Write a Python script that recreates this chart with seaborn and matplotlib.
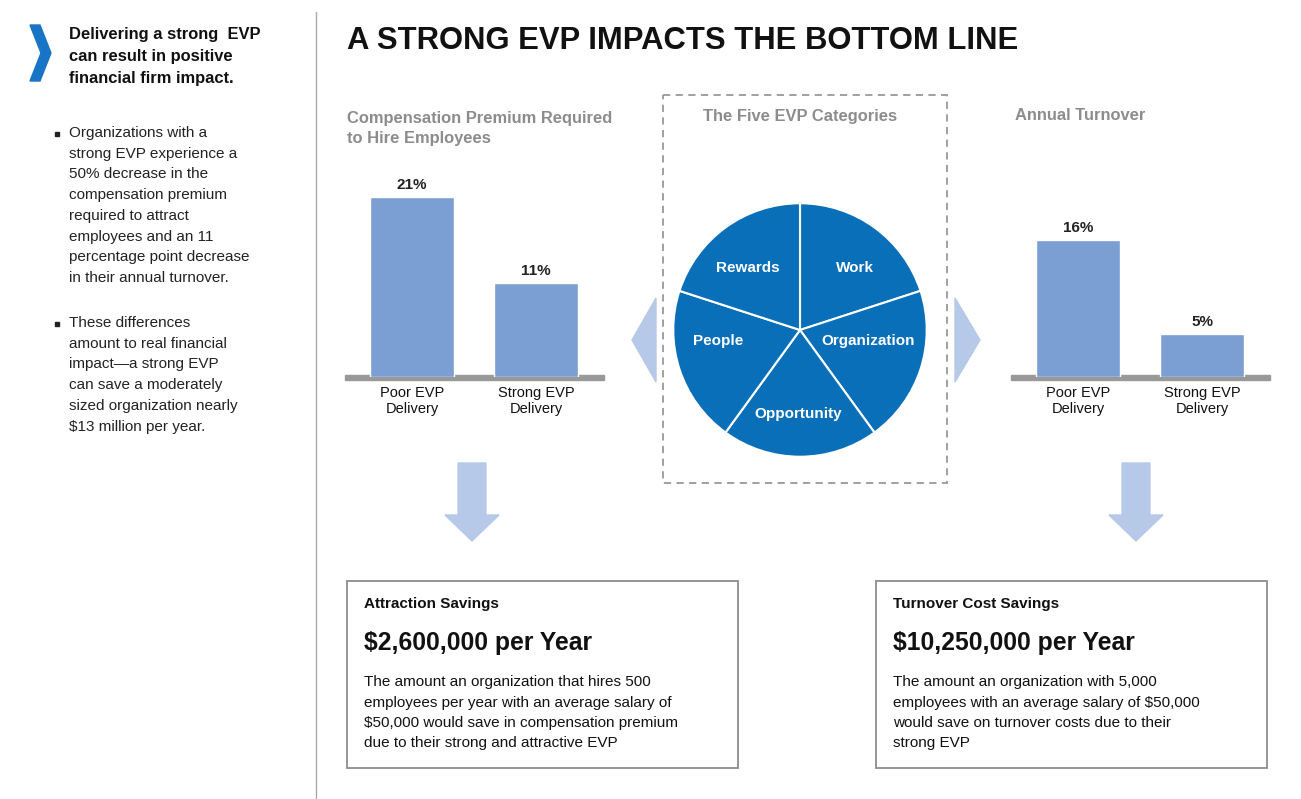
import matplotlib
matplotlib.use("Agg")
import matplotlib.pyplot as plt
import seaborn as sns
import pandas as pd
from matplotlib.patches import Rectangle, Polygon

sns.set_theme(style="white")
plt.rcParams['font.family'] = ['Liberation Sans', 'DejaVu Sans']

comp_cats = ["Poor EVP\nDelivery", "Strong EVP\nDelivery"]
comp_vals = [21, 11]
turn_cats = ["Poor EVP\nDelivery", "Strong EVP\nDelivery"]
turn_vals = [16, 5]
pie_labels = ["Work", "Organization", "Opportunity", "People", "Rewards"]
pie_sizes = [1, 1, 1, 1, 1]

W, H = 1301, 799
BAR = "#7b9fd3"
PIE = "#0a6fb9"
GREY = "#8c8c8c"
LIGHT = "#b7c9e8"

fig = plt.figure(figsize=(W/100, H/100), dpi=100)
bg = fig.add_axes([0, 0, 1, 1])
bg.set_xlim(0, W); bg.set_ylim(H, 0); bg.axis("off")

def ax_px(x0, y0, x1, y1):
    return fig.add_axes([x0/W, 1-y1/H, (x1-x0)/W, (y1-y0)/H])

# left panel
bg.add_patch(Polygon([[30, 25], [40, 25], [51, 53], [40, 81], [30, 81], [41, 53]], color="#1874c5"))
for i, t in enumerate(["Delivering a strong  EVP", "can result in positive", "financial firm impact."]):
    bg.text(69, 35 + 22*i, t, fontsize=11.9, fontweight="bold", va="center", ha="left", color="#111111")
b1 = ["Organizations with a", "strong EVP experience a", "50% decrease in the", "compensation premium",
      "required to attract", "employees and an 11", "percentage point decrease", "in their annual turnover."]
b2 = ["These differences", "amount to real financial", "impact\u2014a strong EVP", "can save a moderately",
      "sized organization nearly", "$13 million per year."]
for start, lines in [(133, b1), (323, b2)]:
    bg.add_patch(Rectangle((55, start-1), 3.5, 3.5, color="#222222"))
    for i, t in enumerate(lines):
        bg.text(69, start + 20.7*i, t, fontsize=11, va="center", ha="left", color="#222222")
bg.plot([316, 316], [12, 798], color="#aaaaaa", lw=1)

bg.text(347, 41, "A STRONG EVP IMPACTS THE BOTTOM LINE", fontsize=22.3, fontweight="bold", va="center", ha="left", color="#111111")

# chart titles
bg.text(347, 118, "Compensation Premium Required", fontsize=11.9, fontweight="bold", color=GREY, va="center")
bg.text(347, 138, "to Hire Employees", fontsize=11.9, fontweight="bold", color=GREY, va="center")
bg.text(1015, 116, "Annual Turnover", fontsize=11.9, fontweight="bold", color=GREY, va="center")
bg.text(800, 116, "The Five EVP Categories", fontsize=11.9, fontweight="bold", color=GREY, va="center", ha="center")

def bars(x0, x1, base, cats, vals, scale, centers):
    top = 150
    ax = ax_px(x0, top, x1, base)
    df = pd.DataFrame({"c": cats, "v": vals})
    sns.barplot(data=df, x="c", y="v", ax=ax, color=BAR, saturation=1, width=84/(centers[1]-centers[0]))
    u = centers[1]-centers[0]
    ax.set_xlim(-(centers[0]-x0)/u, (x1-centers[0])/u)
    ax.set_ylim(0, (base-top)/scale)
    for i, v in enumerate(vals):
        ax.text(i, v + 12/scale, f"{v}%", ha="center", va="center",
                fontsize=11, fontweight="bold", color="#222222")
    ax.axis("off")
    ax.patch.set_alpha(0)
    bg.add_patch(Rectangle((x0, base-2), x1-x0, 5, color="#999999"))
    for i, c in enumerate(cats):
        bg.text(centers[i], base + 24, c, ha="center", va="center", fontsize=10.5, linespacing=1.2, color="#111111")

bars(345, 604, 377, comp_cats, comp_vals, 180/21, [412, 536])
bars(1011, 1270, 377, turn_cats, turn_vals, 137/16, [1078, 1202])

# dashed box
bg.add_patch(Rectangle((663, 95), 284, 388, fill=False, ls=(0, (4, 3)), ec="#999999", lw=1.3))

# pie
pax = ax_px(672, 202, 928, 458)
pax.pie(pie_sizes, startangle=90, counterclock=False, colors=[PIE]*5, radius=1,
        wedgeprops=dict(edgecolor="white", linewidth=1.5))
pax.set_xlim(-1.01, 1.01); pax.set_ylim(-1.01, 1.01)
pax.set_aspect("equal")
for (lx, ly), lab in zip([(855, 268), (868, 341), (798, 414), (718, 341), (748, 268)], pie_labels):
    fig.text(lx/W, 1-ly/H, lab, color="white", fontsize=11, fontweight="bold", ha="center", va="center", zorder=20)

# side triangles
bg.add_patch(Polygon([[656, 298], [656, 382], [632, 340]], color=LIGHT))
bg.add_patch(Polygon([[955, 298], [955, 382], [980, 340]], color=LIGHT))

# down arrows
for cx in (472, 1136):
    bg.add_patch(Polygon([[cx-14, 463], [cx+14, 463], [cx+14, 515], [cx+27, 515], [cx, 541],
                          [cx-27, 515], [cx-14, 515]], color=LIGHT))

# boxes
def box(x0, title, amount, lines):
    bg.add_patch(Rectangle((x0, 581), 391, 187, fill=False, ec="#8c8c8c", lw=1.3))
    bg.text(x0+17, 604, title, fontsize=11, fontweight="bold", va="center", color="#111111")
    bg.text(x0+17, 643, amount, fontsize=17.8, fontweight="bold", va="center", color="#111111")
    for i, t in enumerate(lines):
        bg.text(x0+17, 682 + 20.5*i, t, fontsize=11, va="center", color="#111111")

box(347, "Attraction Savings", "$2,600,000 per Year",
    ["The amount an organization that hires 500", "employees per year with an average salary of",
     "$50,000 would save in compensation premium", "due to their strong and attractive EVP"])
box(876, "Turnover Cost Savings", "$10,250,000 per Year",
    ["The amount an organization with 5,000", "employees with an average salary of $50,000",
     "would save on turnover costs due to their", "strong EVP"])

fig.savefig("out.png", dpi=100, facecolor="white")
